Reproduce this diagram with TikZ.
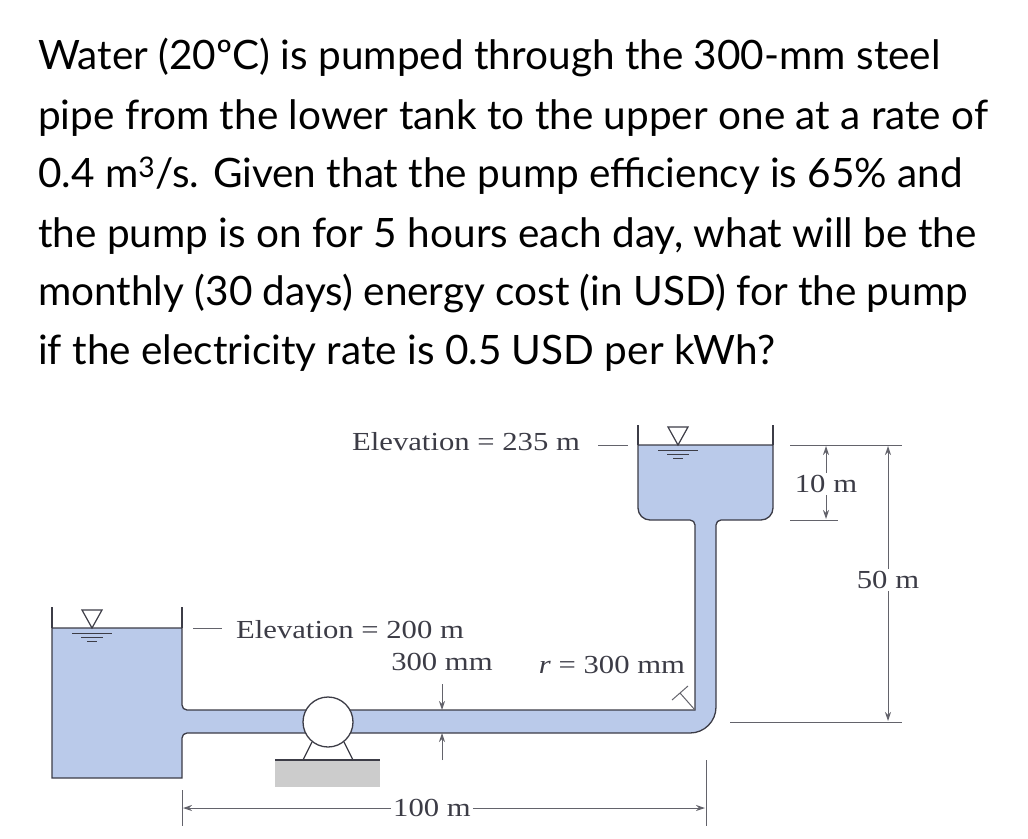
\documentclass[tikz,border=0pt]{standalone}
\usepackage{fontspec}
\setmainfont{Lato}
\newfontfamily\figfont{Liberation Serif}
\usetikzlibrary{arrows.meta}
\definecolor{water}{RGB}{186,202,234}
\definecolor{base}{RGB}{204,204,204}
\definecolor{ink}{RGB}{60,60,70}
\newcommand{\wide}[1]{\scalebox{1.18}[1]{#1}}
\begin{document}
\begin{tikzpicture}[x=1pt,y=-1pt,
  head/.style={anchor=base west,inner sep=0,font=\fontsize{40.5}{48}\selectfont},
  lbl/.style={inner sep=2pt,font=\figfont\fontsize{26}{30}\selectfont,text=ink},
  wall/.style={draw=ink,line width=1.3pt},
  dim/.style={draw=ink!80,line width=1pt},
  dimarr/.style={dim,-{Stealth[length=9pt,width=6pt]}}]
\useasboundingbox (0,0) rectangle (1028,838);
% heading
\node[head] (t1) at (38,69) {Water (20ºC) is pumped through the 300-mm steel};
\node[head] (t2) at (38,129) {pipe from the lower tank to the upper one at a rate of};
\node[head] (t3) at (38,187) {0.4 m\textsuperscript{3}/s. Given that the pump efficiency is 65\% and};
\node[head] (t4) at (38,247) {the pump is on for 5 hours each day, what will be the};
\node[head] (t5) at (38,305) {monthly (30 days) energy cost (in USD) for the pump};
\node[head] (t6) at (38,364) {if the electricity rate is 0.5 USD per kWh?};
% water body
\path[fill=water,draw=ink,line width=1.3pt]
  (52,628) -- (52,778) -- (182,778) [rounded corners=5pt] -- (182,733) [sharp corners]
  [rounded corners=26pt] -- (716,733) [sharp corners] [rounded corners=5pt] -- (716,520) [sharp corners]
  [rounded corners=12pt] -- (773,520) [sharp corners] -- (773,445) -- (638,445)
  [rounded corners=12pt] -- (638,520) [sharp corners] [rounded corners=5pt] -- (695,520) [sharp corners]
  -- (695,710) [rounded corners=5pt] -- (182,710) [sharp corners] -- (182,628) -- cycle;
\draw[wall] (52,628) -- (52,607);
\draw[wall] (182,628) -- (182,607);
\draw[wall] (638,445) -- (638,425);
\draw[wall] (773,445) -- (773,425);
% free surface symbols
\foreach \cx/\cy in {92/628,678/445}{
  \draw[ink,line width=1.2pt] (\cx-10,\cy-18) -- (\cx+10,\cy-18) -- (\cx,\cy) -- cycle;
  \draw[ink,line width=1pt] (\cx-20,\cy+5) -- (\cx+20,\cy+5);
  \draw[ink,line width=1pt] (\cx-11,\cy+9) -- (\cx+11,\cy+9);
  \draw[ink,line width=1pt] (\cx-5,\cy+13) -- (\cx+5,\cy+13);
}
% pump
\fill[base] (275,760) rectangle (380,787);
\draw[ink,line width=1.2pt] (275,760) -- (380,760);
\draw[ink,line width=1.2pt] (303,760) -- (312,742) (353,760) -- (344,742);
\node[circle,draw=ink,fill=white,line width=1.3pt,minimum size=50pt,inner sep=0] (pump) at (328,722) {};
% labels
\node[lbl] (e235) at (466,442) {\wide{Elevation = 235 m}};
\draw[dim] (598,445) -- (628,445);
\node[lbl] (e200) at (350,630) {\wide{Elevation = 200 m}};
\draw[dim] (193,628) -- (222,628);
\node[lbl] (d300) at (442,662) {\wide{300 mm}};
\coordinate (ptop) at (442,710);
\coordinate (pbot) at (442,733);
\draw[dimarr] (442,684) -- (ptop);
\draw[dimarr] (442,760) -- (pbot);
\node[lbl] (r300) at (612,665) {\wide{\textit{r} = 300 mm}};
\coordinate (corner) at (695,710);
\draw[dim] (corner) -- (680,693);
\draw[dim] (672,700) -- (688,686);
% 100 m
\node[lbl] (d100) at (432,808) {\wide{100 m}};
\draw[dim] (182,790) -- (182,826);
\draw[dim] (706,760) -- (706,826);
\coordinate (l100) at (183,808);
\coordinate (r100) at (705,808);
\draw[dimarr] (d100.west) -- (l100);
\draw[dimarr] (d100.east) -- (r100);
% right dims
\draw[dim] (790,445) -- (902,445);
\draw[dim] (790,520) -- (838,520);
\draw[dim] (730,722) -- (902,722);
\node[lbl] (d10) at (826,484) {\wide{10 m}};
\coordinate (t10) at (826,446);
\coordinate (b10) at (826,519);
\draw[dimarr] (d10.north) -- (t10);
\draw[dimarr] (d10.south) -- (b10);
\node[lbl] (d50) at (888,580) {\wide{50 m}};
\coordinate (t50) at (888,446);
\coordinate (b50) at (888,721);
\draw[dimarr] (d50.north) -- (t50);
\draw[dimarr] (d50.south) -- (b50);
\end{tikzpicture}
\end{document}
